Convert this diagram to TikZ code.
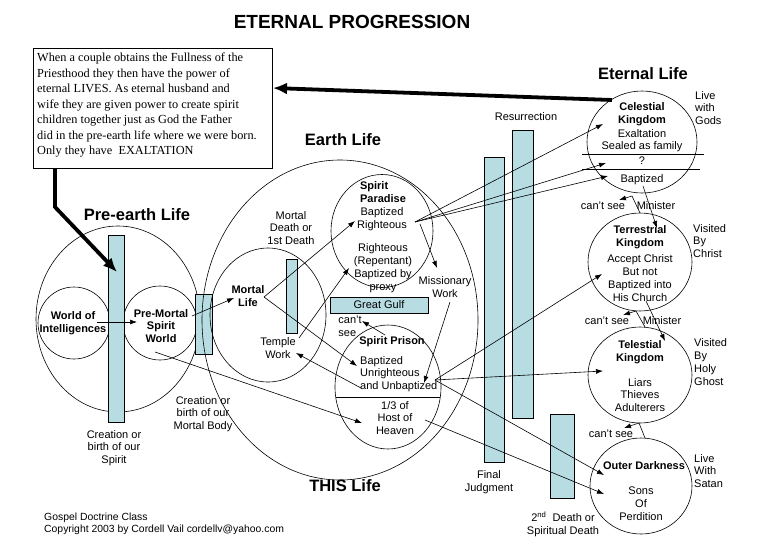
\documentclass[tikz,border=0pt]{standalone}
\usepackage{fontspec}
\setmainfont{Liberation Sans}
\newfontfamily\serifb{Liberation Serif}
\usetikzlibrary{arrows.meta,shapes.geometric}
\definecolor{pill}{RGB}{183,221,226}
\begin{document}
\begin{tikzpicture}[x=1pt,y=-1pt,
  txt/.style={font=\fontsize{11}{12.8}\selectfont,align=center,inner sep=0pt},
  btxt/.style={font=\fontsize{11}{12.8}\selectfont\bfseries,align=center,inner sep=0pt},
  ltxt/.style={font=\fontsize{11}{12.8}\selectfont,align=left,inner sep=0pt,anchor=west},
  head/.style={font=\fontsize{16.5}{19}\selectfont\bfseries,inner sep=0pt},
  circ/.style={draw,line width=0.6pt},
  pillar/.style={draw,fill=pill,line width=0.6pt},
  arr/.style={-{Latex[length=7pt,width=5pt]},line width=0.6pt},
  thick arr/.style={-{Latex[length=14pt,width=12pt]},line width=3.8pt}]
\path[use as bounding box] (0,0) rectangle (764,558);
\node[font=\fontsize{19}{21}\selectfont\bfseries] (title) at (352,22) {ETERNAL PROGRESSION};
% text box
\node[draw,line width=0.6pt,anchor=north west,minimum width=239pt,minimum height=120pt,inner sep=0pt] (box) at (33,48) {};
\node[anchor=north west,align=left,inner sep=0pt,font=\serifb\fontsize{12.3}{15.5}\selectfont] (boxt) at (37,53)
 {When a couple obtains the Fullness of the\\Priesthood they then have the power of\\eternal LIVES. As eternal husband and\\wife they are given power to create spirit\\children together just as God the Father\\did in the pre-earth life where we were born.\\Only they have \ EXALTATION};
\coordinate (boxin) at (273,88);
% pre-earth
\node[head] (pel) at (137,215) {Pre-earth Life};
\node[circ,ellipse,minimum width=164pt,minimum height=186pt,inner sep=0] (pre) at (118,319) {};
\node[circ,circle,minimum size=72pt,inner sep=0] (woi) at (74,323) {};
\node[circ,circle,minimum size=74pt,inner sep=0] (pms) at (160,323) {};
\node[pillar,anchor=north west,minimum width=16pt,minimum height=187pt,inner sep=0] (p1) at (108,235) {};
\node[pillar,anchor=north west,minimum width=17pt,minimum height=60pt,inner sep=0] (p2) at (195,294) {};
\node[btxt] (woit) at (73,323) {World of\\Intelligences};
\node[btxt] (pmst) at (161,326) {Pre-Mortal\\Spirit\\World};
\node[txt] (cs) at (114,448) {Creation or\\birth of our\\Spirit};
\node[txt] (cm) at (203,414) {Creation or\\birth of our\\Mortal Body};
% earth life
\node[head] (el) at (343,140) {Earth Life};
\node[head] (tl) at (345,486) {THIS Life};
\node[circ,ellipse,minimum width=276pt,minimum height=320pt,inner sep=0] (earth) at (340,320) {};
\node[circ,ellipse,minimum width=116pt,minimum height=134pt,inner sep=0] (mort) at (268,315) {};
\node[pillar,anchor=north west,minimum width=11pt,minimum height=74pt,inner sep=0] (p3) at (286,259) {};
\node[btxt] (ml) at (248,296) {Mortal\\Life};
\node[txt] (md) at (291,228) {Mortal\\Death or\\1st Death};
\node[txt] (tw) at (278,348) {Temple\\Work};
\node[circ,ellipse,minimum width=102pt,minimum height=113pt,inner sep=0] (sp) at (382,231) {};
\node[btxt,align=left] (spt) at (383,192) {Spirit\\Paradise};
\node[txt] (br) at (382,219) {Baptized\\Righteous};
\node[txt] (rr) at (383,268) {Righteous\\(Repentant)\\Baptized by\\proxy};
\node[pillar,anchor=north west,minimum width=98pt,minimum height=16pt,inner sep=0] (gg) at (330,297) {};
\node[txt] (ggt) at (379,305) {Great Gulf};
\node[circ,ellipse,minimum width=106pt,minimum height=124pt,inner sep=0] (pris) at (388,387) {};
\draw[line width=0.6pt] (336,397) -- (440,397);
\node[btxt] (prt) at (392,342) {Spirit Prison};
\node[ltxt] (bu) at (360,374) {Baptized\\Unrighteous\\and Unbaptized};
\node[txt] (host) at (395,418) {1/3 of\\Host of\\Heaven};
\node[txt,align=left] (cs1) at (350,326) {can't\\see};
\node[txt] (mw) at (445,287) {Missionary\\Work};
\coordinate (c1) at (385,335);
\draw[arr] (c1) -- (362,321);
% right pillars
\node[txt] (res) at (526,117) {Resurrection};
\node[pillar,anchor=north west,minimum width=20pt,minimum height=305pt,inner sep=0] (fj) at (484,157) {};
\node[pillar,anchor=north west,minimum width=21pt,minimum height=288pt,inner sep=0] (rs) at (512,130) {};
\node[pillar,anchor=north west,minimum width=24pt,minimum height=84pt,inner sep=0] (sd) at (550,414) {};
\node[txt] (fjt) at (489,482) {Final\\Judgment};
\node[txt] (sdt) at (563,524) {2\textsuperscript{nd} \ Death or\\Spiritual Death};
% kingdoms
\node[head] (etl) at (643,74) {Eternal Life};
\node[circ,ellipse,minimum width=110pt,minimum height=102pt,inner sep=0] (cel) at (642,142) {};
\draw[line width=0.6pt] (582,154) -- (704,154) (582,169) -- (700,169);
\node[btxt] (celt) at (642,114) {Celestial\\Kingdom};
\node[txt] (ex) at (642,134) {Exaltation};
\node[txt] (seal) at (642,147) {Sealed as family};
\node[txt] (q) at (642,161) {?};
\node[txt] (bap) at (642,180) {Baptized};
\node[ltxt] (lg) at (695,108) {Live\\with\\Gods};
\node[circ,ellipse,minimum width=104pt,minimum height=98pt,inner sep=0] (ter) at (640,262) {};
\node[btxt] (tert) at (640,237) {Terrestrial\\Kingdom};
\node[txt] (acc) at (640,278) {Accept Christ\\But not\\Baptized into\\His Church};
\node[ltxt] (vc) at (693,241) {Visited\\By\\Christ};
\node[circ,ellipse,minimum width=104pt,minimum height=96pt,inner sep=0] (tel) at (640,375) {};
\node[btxt] (telt) at (640,352) {Telestial\\Kingdom};
\node[txt] (lia) at (640,395) {Liars\\Thieves\\Adulterers};
\node[ltxt] (vh) at (694,362) {Visited\\By\\Holy\\Ghost};
\node[circ,ellipse,minimum width=102pt,minimum height=96pt,inner sep=0] (od) at (641,486) {};
\node[btxt] (odt) at (644,466) {Outer Darkness};
\node[txt] (sons) at (641,504) {Sons\\Of\\Perdition};
\node[ltxt] (ls) at (694,471) {Live\\With\\Satan};
\node[txt] (cs2) at (603,206) {can't see};
\node[txt] (mi1) at (656,206) {Minister};
\node[txt] (cs3) at (607,321) {can't see};
\node[txt] (mi2) at (662,321) {Minister};
\node[txt] (cs4) at (611,434) {can't see};
% credits
\node[anchor=west,font=\fontsize{10.4}{12}\selectfont,align=left,inner sep=0] (cred) at (44,524) {Gospel Doctrine Class\\Copyright 2003 by Cordell Vail cordellv@yahoo.com};
% connectors
\draw[thick arr] (612,100) -- (boxin);
\draw[line width=3.8pt] (55,168) -- (55,208);
\draw[thick arr] (55,207) -- (117,272);
\draw[arr] (97,322) -- (137,322);
\draw[arr] (192,316) -- (234,298);
\draw[arr] (264,297) -- (355,221);
\draw[arr] (264,297) -- (357,366);
\draw[arr] (299,338) -- (349,268);
\draw[arr] (361,388) -- (296,353);
\draw[arr] (155,352) -- (362,423);
\draw[arr] (420,224) -- (437,268);
\draw[arr] (450,302) -- (424,383);
\draw[arr] (415,222) -- (603,124);
\draw[arr] (415,222) -- (606,163);
\draw[arr] (415,222) -- (608,176);
\draw[arr] (435,380) -- (602,274);
\draw[arr] (435,380) -- (603,371);
\draw[arr] (435,380) -- (604,475);
\draw[arr] (425,420) -- (604,494);
\draw[arr] (643,186) -- (657,228);
\draw[arr] (640,213) -- (632,196) -- (619,200);
\draw[arr] (646,301) -- (665,341);
\draw[arr] (645,327) -- (636,311) -- (623,315);
\draw[arr] (645,438) -- (639,423) -- (624,428);
\end{tikzpicture}
\end{document}
